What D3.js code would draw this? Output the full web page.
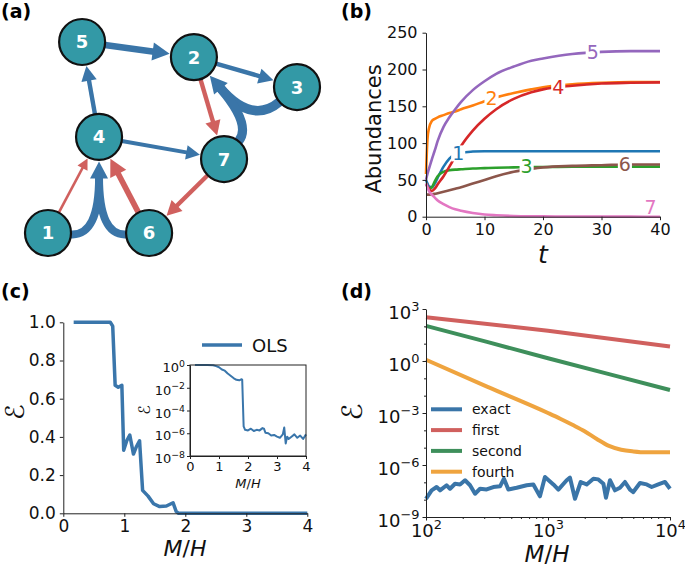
<!DOCTYPE html>
<html><head><meta charset="utf-8">
<script src="https://cdn.jsdelivr.net/npm/d3@7"></script>
<style>body{margin:0;background:#fff}svg{display:block}</style>
</head><body>
<svg id="fig" width="685" height="567"></svg>
<script>
// ================= DATA =================
// (a) interaction network
const nodeIds = [1, 2, 3, 4, 5, 6, 7];
const nodeLayoutX = [0.0, 0.586, 1.0, 0.205, 0.137, 0.406, 0.707];
const nodeLayoutY = [0.0, 0.921, 0.764, 0.503, 1.0, 0.0, 0.387];
const edgeFrom = [5, 2, 4, 4, 2, 7, 1, 6];
const edgeTo = [2, 3, 5, 7, 7, 6, 4, 4];
const edgeStrength = [3.0, 2.0, 2.0, 1.8, 2.0, 2.0, 1.2, 2.6];
const edgeSign = [1, 1, 1, 1, -1, -1, -1, -1];
const hyperFrom = [[1, 6], [3, 7]];
const hyperTo = [4, 2];
const hyperStrength = [3.6, 4.2];
const hyperSign = [1, 1];
const hyperJunctionX = [0.205, 0.819];
const hyperJunctionY = [-0.016, 0.565];

// (b) abundances
const timePoints = [0, 0.25, 0.5, 1, 1.5, 2, 3, 4, 5, 6, 8, 10, 12, 15, 18, 20, 25, 30, 35, 40];
const abundance1 = [50, 45, 41, 40, 45, 53, 68, 79, 85, 87, 88.5, 89, 89, 89, 89, 89, 89, 89, 89, 89];
const abundance2 = [58, 105, 120, 130, 133, 135, 138, 141, 143, 146, 151, 157, 162, 168, 173, 176, 180, 182, 183, 183];
const abundance3 = [45, 41, 38, 40, 48, 55, 61, 63, 64, 64.5, 65.5, 66, 66.5, 67, 67.5, 67.5, 68, 68, 68, 68];
const abundance4 = [45, 41, 38, 35, 38, 44, 55, 68, 82, 96, 117, 133, 146, 160, 169, 173, 178, 181, 182, 182.5];
const abundance5 = [50, 58, 65, 78, 90, 103, 122, 135, 146, 156, 172, 184, 194, 204, 212, 215, 221, 224, 225, 225];
const abundance6 = [30, 30, 30, 30.5, 31, 32, 34, 36, 38, 40, 45, 50, 55, 61, 65, 67, 69, 70, 71, 71];
const abundance7 = [45, 40, 35, 30, 26, 22, 17, 13, 10, 8, 5, 3, 2, 1, 0.6, 0.5, 0.2, 0.1, 0.05, 0];
const speciesNames = ["1", "2", "3", "4", "5", "6", "7"];
const speciesLabelT = [5.5, 11.2, 17.2, 22.6, 28.5, 34, 38.4];
const speciesLabelV = [86, 161, 68, 176, 224, 71.6, 13.6];
const bXTicks = [0, 10, 20, 30, 40];
const bYTicks = [0, 50, 100, 150, 200, 250];

// (c) OLS error
const olsMH = [0.17, 0.77, 0.81, 0.85, 0.90, 0.96, 0.99, 1.04, 1.09, 1.15, 1.20, 1.25, 1.30, 1.39, 1.48, 1.58, 1.69, 1.80, 1.85, 1.89, 4.0];
const olsErr = [1.0, 1.0, 0.98, 0.67, 0.66, 0.67, 0.33, 0.38, 0.41, 0.31, 0.35, 0.38, 0.12, 0.09, 0.05, 0.035, 0.038, 0.055, 0.01, 0.0, 0.0];
const insetMH = [0.17, 0.6, 0.8, 0.9, 1.0, 1.1, 1.2, 1.3, 1.4, 1.5, 1.6, 1.7, 1.78, 1.8, 1.85, 1.9, 2.0, 2.1, 2.2, 2.3, 2.4, 2.5, 2.55, 2.6, 2.7, 2.8, 2.9, 3.0, 3.1, 3.2, 3.25, 3.3, 3.35, 3.4, 3.5, 3.6, 3.7, 3.8, 3.9, 4.0];
const insetLog10Err = [0, 0, -0.02, -0.1, -0.2, -0.4, -0.5, -0.75, -0.95, -1.15, -1.3, -1.35, -1.25, -1.3, -5.4, -5.7, -5.75, -5.6, -5.8, -5.7, -5.75, -5.55, -5.6, -5.95, -6.0, -6.2, -6.15, -6.3, -6.4, -6.1, -5.5, -6.9, -6.3, -6.5, -6.3, -6.1, -6.4, -6.2, -6.5, -6.1];
const cXTicks = [0, 1, 2, 3, 4];
const cYTicks = [0, 0.2, 0.4, 0.6, 0.8, 1.0];
const insetYTickExp = [0, -2, -4, -6, -8];

// (d) approximation orders (log10 values)
const exactLog10MH = [2.000, 2.046, 2.087, 2.115, 2.169, 2.197, 2.238, 2.279, 2.320, 2.361, 2.402, 2.443, 2.497, 2.552, 2.607, 2.639, 2.675, 2.743, 2.825, 2.880, 2.934, 2.975, 3.044, 3.085, 3.153, 3.180, 3.221, 3.268, 3.317, 3.372, 3.413, 3.454, 3.475, 3.508, 3.549, 3.590, 3.631, 3.672, 3.699, 3.754, 3.809, 3.850, 3.904, 3.959, 4.000];
const exactLog10Err = [-7.95, -7.46, -7.27, -7.46, -7.17, -7.37, -7.08, -7.12, -6.88, -7.17, -7.66, -7.37, -7.41, -7.27, -7.23, -6.79, -7.41, -7.31, -7.17, -7.12, -7.81, -6.69, -7.12, -7.42, -6.88, -6.73, -7.95, -6.98, -7.12, -6.79, -6.83, -7.08, -7.89, -6.88, -7.46, -7.31, -6.98, -7.42, -7.56, -7.04, -7.12, -7.27, -7.12, -6.98, -7.37];
const firstLog10MH = [2, 3, 4];
const firstLog10Err = [2.52, 1.75, 0.84];
const secondLog10MH = [2, 2.5, 3, 3.5, 4];
const secondLog10Err = [2.03, 1.1, 0.16, -0.76, -1.67];
const fourthLog10MH = [2, 2.5, 3, 3.1, 3.2, 3.3, 3.4, 3.5, 3.6, 3.7, 3.8, 3.9, 4];
const fourthLog10Err = [0.07, -1.48, -3.0, -3.33, -3.68, -4.05, -4.5, -4.9, -5.12, -5.22, -5.27, -5.27, -5.27];
const orderNames = ["exact", "first", "second", "fourth"];
const dXTickExp = [2, 3, 4];
const dYTickExp = [3, 0, -3, -6, -9];

// ================= DRAWING =================
const svg = d3.select("#fig");
const F = '"DejaVu Sans", Verdana, sans-serif';
const INK = "#222";
const MINUS = "\u2212";

function panelLabel(x, y, t) {
  svg.append("text").attr("x", x).attr("y", y).attr("font-family", F)
    .attr("font-weight", "bold").attr("font-size", 19).attr("fill", "#000").text(t);
}
panelLabel(1, 18, "(a)"); panelLabel(341, 18, "(b)");
panelLabel(1, 298, "(c)"); panelLabel(341, 298, "(d)");

function styleAxis(g, fs) {
  g.attr("font-family", F).attr("font-size", fs);
  g.select(".domain").attr("stroke", INK).attr("stroke-width", 1);
  g.selectAll(".tick line").attr("stroke", INK).attr("stroke-width", 1);
  g.selectAll(".tick text").attr("fill", "#111");
}
function supText(sel, exp, fs) {
  sel.text(null);
  sel.append("tspan").text("10");
  sel.append("tspan").attr("dy", -0.42 * fs).attr("font-size", fs * 0.72)
    .text(exp < 0 ? MINUS + (-exp) : String(exp));
}
function mathLabel(g, x, y, fs, rotate) {
  const t = g.append("text").attr("font-family", F).attr("font-size", fs)
    .attr("text-anchor", "middle").attr("fill", "#111")
    .attr("transform", `translate(${x},${y})` + (rotate ? " rotate(-90)" : ""));
  return t;
}
function mhLabel(g, x, y, fs) {
  const t = mathLabel(g, x, y, fs, false);
  t.append("tspan").attr("font-style", "italic").text("M");
  t.append("tspan").text("/");
  t.append("tspan").attr("font-style", "italic").text("H");
}

// ---------- (a) network ----------
const ga = svg.append("g");
const ax = d3.scaleLinear([0, 1], [48, 297]);
const ay = d3.scaleLinear([0, 1], [233, 42]);
const pos = {};
nodeIds.forEach((id, i) => pos[id] = { x: ax(nodeLayoutX[i]), y: ay(nodeLayoutY[i]) });
const R = 23;
const BLUE = "#3a75a8", RED = "#d0605e";
const headW = w => Math.min(2.4 * w + 5, 18);
function drawHead(tip, ux, uy, w, color) {
  const hw = headW(w), hl = hw * 0.95;
  const bx = tip.x - ux * hl, by = tip.y - uy * hl, px = -uy, py = ux;
  ga.append("path")
    .attr("d", `M${tip.x},${tip.y}L${bx + px * hw / 2},${by + py * hw / 2}L${bx - px * hw / 2},${by - py * hw / 2}Z`)
    .attr("fill", color);
}
edgeFrom.forEach((s, i) => {
  const S = pos[s], T = pos[edgeTo[i]];
  const w = edgeStrength[i] * 2.2, c = edgeSign[i] > 0 ? BLUE : RED;
  const dx = T.x - S.x, dy = T.y - S.y, d = Math.hypot(dx, dy), ux = dx / d, uy = dy / d;
  const st = { x: S.x + ux * R, y: S.y + uy * R };
  const tip = { x: T.x - ux * (R + 1.5), y: T.y - uy * (R + 1.5) };
  const hl = headW(w) * 0.95;
  ga.append("line").attr("x1", st.x).attr("y1", st.y)
    .attr("x2", tip.x - ux * (hl - 1.5)).attr("y2", tip.y - uy * (hl - 1.5))
    .attr("stroke", c).attr("stroke-width", w);
  drawHead(tip, ux, uy, w, c);
});
hyperFrom.forEach((srcs, i) => {
  const T = pos[hyperTo[i]];
  const w = hyperStrength[i] * 2.2, c = hyperSign[i] > 0 ? BLUE : RED;
  const J = { x: ax(hyperJunctionX[i]), y: ay(hyperJunctionY[i]) };
  const dx = T.x - J.x, dy = T.y - J.y, d = Math.hypot(dx, dy), ux = dx / d, uy = dy / d;
  const tip = { x: T.x - ux * (R + 1.5), y: T.y - uy * (R + 1.5) };
  const hl = headW(w) * 0.95;
  const base = { x: tip.x - ux * (hl - 1.5), y: tip.y - uy * (hl - 1.5) };
  srcs.forEach(s => {
    const S = pos[s];
    const ex = J.x - S.x, ey = J.y - S.y, e = Math.hypot(ex, ey);
    const st = { x: S.x + ex / e * R, y: S.y + ey / e * R };
    ga.append("path").attr("d", `M${st.x},${st.y}Q${J.x},${J.y} ${base.x},${base.y}`)
      .attr("fill", "none").attr("stroke", c).attr("stroke-width", w);
  });
  drawHead(tip, ux, uy, w, c);
});
nodeIds.forEach(id => {
  ga.append("circle").attr("cx", pos[id].x).attr("cy", pos[id].y).attr("r", R)
    .attr("fill", "#3399a6").attr("stroke", "#111").attr("stroke-width", 2.2);
  ga.append("text").attr("x", pos[id].x).attr("y", pos[id].y).attr("dy", "0.36em")
    .attr("text-anchor", "middle").attr("font-family", F).attr("font-weight", "bold")
    .attr("font-size", 18).attr("fill", "#fff").text(id);
});

// ---------- (b) abundances ----------
const gb = svg.append("g");
const xb = d3.scaleLinear([0, 40], [426, 660]);
const yb = d3.scaleLinear([0, 250], [216.7, 32.7]);
const abundances = [abundance1, abundance2, abundance3, abundance4, abundance5, abundance6, abundance7];
const speciesColors = ["#1f77b4", "#ff7f0e", "#2ca02c", "#d62728", "#9467bd", "#8c564b", "#e377c2"];
const lineB = d3.line().x(d => xb(d[0])).y(d => yb(d[1])).curve(d3.curveMonotoneX);
abundances.forEach((vals, k) => {
  gb.append("path").datum(timePoints.map((t, j) => [t, vals[j]]))
    .attr("d", lineB).attr("fill", "none").attr("stroke", speciesColors[k]).attr("stroke-width", 2.6);
});
const gbx = gb.append("g").attr("transform", "translate(0,216.7)")
  .call(d3.axisBottom(xb).tickValues(bXTicks).tickSize(3.5).tickPadding(3.5).tickSizeOuter(0));
styleAxis(gbx, 16);
const gby = gb.append("g").attr("transform", "translate(426,0)")
  .call(d3.axisLeft(yb).tickValues(bYTicks).tickSize(3.5).tickPadding(5).tickSizeOuter(0));
styleAxis(gby, 16);
speciesNames.forEach((n, k) => {
  const x = xb(speciesLabelT[k]), y = yb(speciesLabelV[k]);
  const bg = gb.append("rect").attr("fill", "#fff");
  const t = gb.append("text").attr("x", x).attr("y", y).attr("dy", "0.36em")
    .attr("text-anchor", "middle").attr("font-family", F).attr("font-size", 19)
    .attr("fill", speciesColors[k]).text(n);
  const bb = t.node().getBBox();
  bg.attr("x", bb.x - 1).attr("y", y - 8).attr("width", bb.width + 2).attr("height", 16);
});
mathLabel(gb, 381, 129, 21, true).text("Abundances");
mathLabel(gb, 543, 263, 25, false).attr("font-style", "italic").text("t");

// ---------- (c) OLS ----------
const gc = svg.append("g");
const xc = d3.scaleLinear([0, 4], [63.3, 307.3]);
const yc = d3.scaleLinear([0, 1], [513.3, 322.3]);
const OLSC = "#3a76ab";
gc.append("path").datum(olsMH.map((m, j) => [m, olsErr[j]]))
  .attr("d", d3.line().x(d => xc(d[0])).y(d => yc(d[1])))
  .attr("fill", "none").attr("stroke", OLSC).attr("stroke-width", 3.5).attr("stroke-linejoin", "round");
const gcx = gc.append("g").attr("transform", "translate(0,513.3)")
  .call(d3.axisBottom(xc).tickValues(cXTicks).tickFormat(d3.format("d")).tickSize(3.5).tickPadding(3.5).tickSizeOuter(0));
styleAxis(gcx, 17);
const gcy = gc.append("g").attr("transform", "translate(63.3,0)")
  .call(d3.axisLeft(yc).tickValues(cYTicks).tickFormat(d3.format(".1f")).tickSize(3.5).tickPadding(4).tickSizeOuter(0));
styleAxis(gcy, 17);
mhLabel(gc, 185, 556, 22);
mathLabel(gc, 24, 412, 26, true).attr("font-style", "italic").text("\u2130");
// legend
gc.append("line").attr("x1", 202).attr("x2", 242).attr("y1", 345).attr("y2", 345)
  .attr("stroke", OLSC).attr("stroke-width", 3.5);
gc.append("text").attr("x", 252).attr("y", 352).attr("font-family", F).attr("font-size", 18)
  .attr("fill", "#111").text("OLS");
// inset
const xi = d3.scaleLinear([0, 4], [190, 306]);
const yi = d3.scaleLog([1e-8, 1], [456, 365]);
gc.append("path").datum(insetMH.map((m, j) => [m, Math.pow(10, insetLog10Err[j])]))
  .attr("d", d3.line().x(d => xi(d[0])).y(d => yi(d[1])))
  .attr("fill", "none").attr("stroke", OLSC).attr("stroke-width", 2).attr("stroke-linejoin", "round");
gc.append("rect").attr("x", 190).attr("y", 365).attr("width", 116).attr("height", 91)
  .attr("fill", "none").attr("stroke", INK).attr("stroke-width", 1);
const gix = gc.append("g").attr("transform", "translate(0,456)")
  .call(d3.axisBottom(xi).tickValues(cXTicks).tickFormat(d3.format("d")).tickSize(3).tickPadding(2.5).tickSizeOuter(0));
styleAxis(gix, 13);
const giy = gc.append("g").attr("transform", "translate(190,0)")
  .call(d3.axisLeft(yi).tickValues(insetYTickExp.map(e => Math.pow(10, e))).tickFormat(() => "")
    .tickSize(3).tickPadding(2).tickSizeOuter(0));
styleAxis(giy, 13);
giy.selectAll(".tick text").each(function (d) {
  const s = d3.select(this); supText(s, Math.round(Math.log10(d)), 13); s.attr("dy", "0.5em");
});
mhLabel(gc, 248, 488, 13);
mathLabel(gc, 150, 410, 16, true).attr("font-style", "italic").text("\u2130");

// ---------- (d) orders ----------
const gd = svg.append("g");
const xd = d3.scaleLog([1e2, 1e4], [426, 670]);
const yd = d3.scaleLog([1e-9, 1e3], [517, 309]);
const orderColors = ["#3a75a8", "#d0605e", "#3e8f5b", "#efa43f"];
const orderSeries = [
  [exactLog10MH, exactLog10Err], [firstLog10MH, firstLog10Err],
  [secondLog10MH, secondLog10Err], [fourthLog10MH, fourthLog10Err]
];
const lineD = d3.line().x(d => xd(d[0])).y(d => yd(d[1]));
orderSeries.forEach(([xs, ys], k) => {
  gd.append("path").datum(xs.map((lx, j) => [Math.pow(10, lx), Math.pow(10, ys[j])]))
    .attr("d", k === 3 ? lineD.curve(d3.curveMonotoneX) : lineD.curve(d3.curveLinear))
    .attr("fill", "none").attr("stroke", orderColors[k]).attr("stroke-width", 4).attr("stroke-linejoin", "round");
});
// minor ticks
const minorX = [];
[2, 3].forEach(e => { for (let m = 2; m <= 9; m++) minorX.push(m * Math.pow(10, e)); });
gd.append("g").attr("transform", "translate(0,517)")
  .call(d3.axisBottom(xd).tickValues(minorX).tickFormat(() => "").tickSize(2).tickSizeOuter(0))
  .call(g => { g.select(".domain").remove(); g.selectAll("line").attr("stroke", INK); });
const minorY = [];
for (let e = -9; e <= 3; e++) if (!dYTickExp.includes(e)) minorY.push(Math.pow(10, e));
gd.append("g").attr("transform", "translate(426,0)")
  .call(d3.axisLeft(yd).tickValues(minorY).tickFormat(() => "").tickSize(2).tickSizeOuter(0))
  .call(g => { g.select(".domain").remove(); g.selectAll("line").attr("stroke", INK); });
const gdx = gd.append("g").attr("transform", "translate(0,517)")
  .call(d3.axisBottom(xd).tickValues(dXTickExp.map(e => Math.pow(10, e))).tickFormat(() => "")
    .tickSize(3.5).tickPadding(3.5).tickSizeOuter(0));
styleAxis(gdx, 18);
gdx.selectAll(".tick text").each(function (d) { supText(d3.select(this), Math.round(Math.log10(d)), 18); });
const gdy = gd.append("g").attr("transform", "translate(426,0)")
  .call(d3.axisLeft(yd).tickValues(dYTickExp.map(e => Math.pow(10, e))).tickFormat(() => "")
    .tickSize(3.5).tickPadding(3).tickSizeOuter(0));
styleAxis(gdy, 18);
gdy.selectAll(".tick text").each(function (d) {
  const s = d3.select(this); supText(s, Math.round(Math.log10(d)), 18); s.attr("dy", "0.5em");
});
mhLabel(gd, 547, 562, 23);
mathLabel(gd, 362, 412, 28, true).attr("font-style", "italic").text("\u2130");
// legend
orderNames.forEach((n, k) => {
  const y = 409.3 + k * 20.8;
  gd.append("line").attr("x1", 431).attr("x2", 462).attr("y1", y).attr("y2", y)
    .attr("stroke", orderColors[k]).attr("stroke-width", 4);
  gd.append("text").attr("x", 472).attr("y", y + 5).attr("font-family", F).attr("font-size", 14)
    .attr("fill", "#111").text(n);
});
</script>
</body></html>
